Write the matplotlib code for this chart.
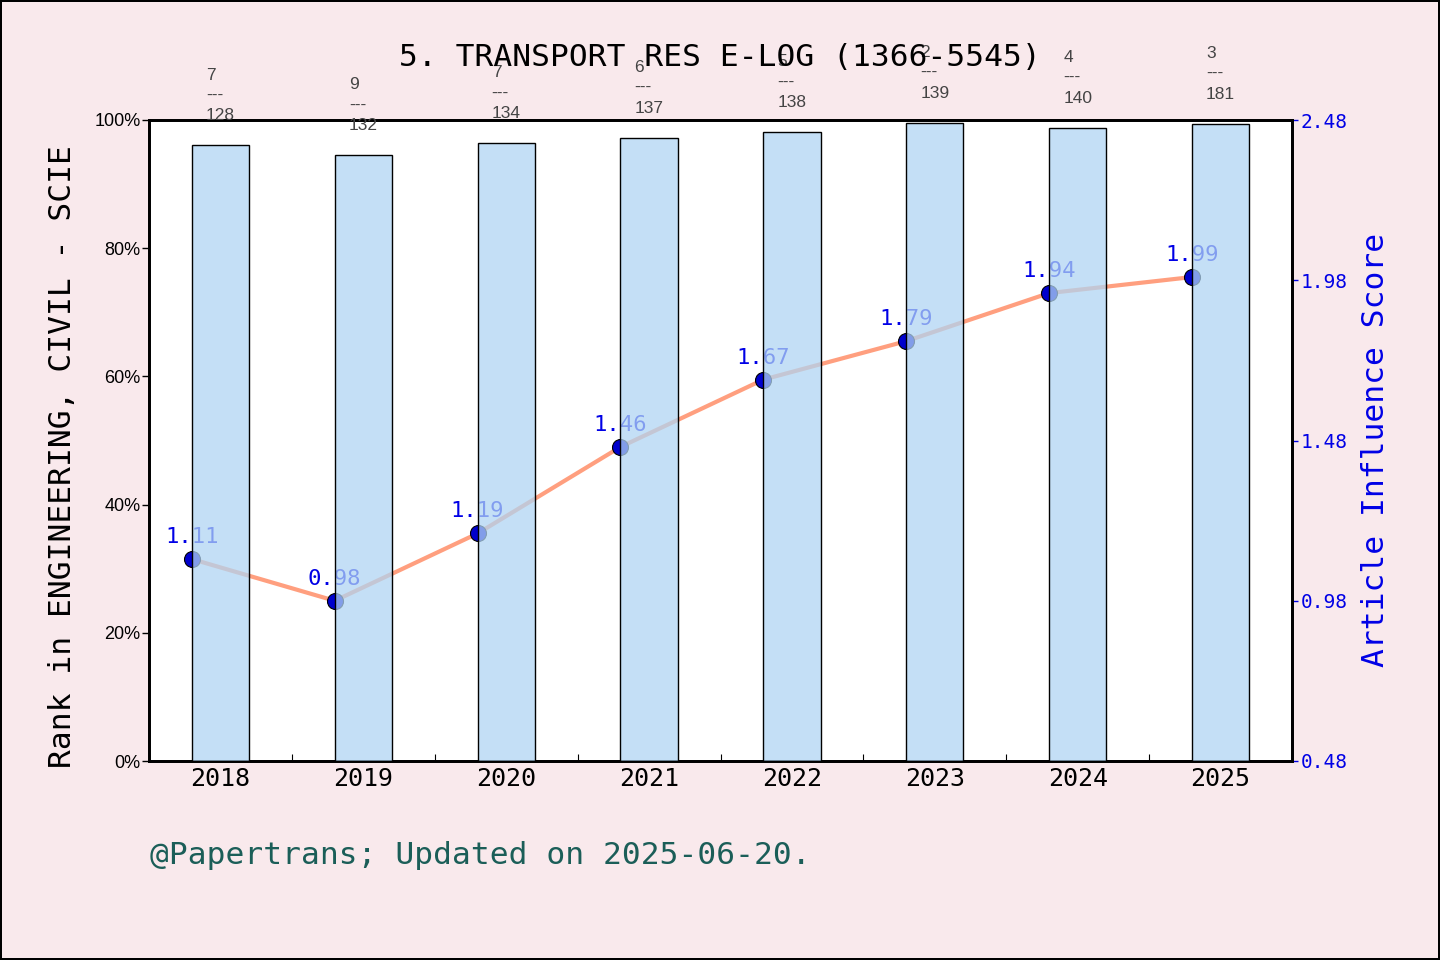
import matplotlib
matplotlib.use("Agg")
from matplotlib import pyplot as plt
from matplotlib.ticker import FixedLocator, FuncFormatter

# data
years = ["2018", "2019", "2020", "2021", "2022", "2023", "2024", "2025"]
rank_pct = [96.05, 94.5, 96.4, 97.25, 98.1, 99.6, 98.8, 99.45]
ranks = [7, 9, 7, 6, 5, 2, 4, 3]
totals = [128, 132, 134, 137, 138, 139, 140, 181]
ais = [1.11, 0.98, 1.19, 1.46, 1.67, 1.79, 1.94, 1.99]
ais_ticks = [0.48, 0.98, 1.48, 1.98, 2.48]

title = "5. TRANSPORT RES E-LOG (1366-5545)"
footer = "@Papertrans; Updated on 2025-06-20."

MONO = "DejaVu Sans Mono"
SANS = "Liberation Sans"
BG = "#f9e9ec"
BLUE = "#0000e6"

fig = plt.figure(figsize=(14.4, 9.6), dpi=100)
fig.patch.set_facecolor(BG)
fig.patch.set_edgecolor("black")
fig.patch.set_linewidth(1.5)

ax = fig.add_axes([149 / 1440, 1 - 761 / 960, (1292 - 149) / 1440, (761 - 120) / 960])
ax2 = ax.twinx()
# bars (left axis) sit over the score line (right axis)
ax.set_zorder(ax2.get_zorder() + 1)
ax.patch.set_visible(False)
ax2.patch.set_visible(True)
ax2.patch.set_facecolor("white")

x = list(range(len(years)))
bar_w = 0.4

# score line, anchored at the left edge of each bar
xs = [i - bar_w / 2 for i in x]
ax2.plot(xs, ais, color="#ff9f7f", lw=3, zorder=2, solid_capstyle="round")
ax2.plot(xs, ais, ls="none", marker="o", ms=11.5, mfc="#0000cd", mec="black",
         mew=0.8, zorder=3)
for xi, v in zip(xs, ais):
    ax2.annotate(f"{v:.2f}", (xi, v), xytext=(0, 12), textcoords="offset pixels",
                 ha="center", va="bottom", color=BLUE, fontsize=16, family=MONO,
                 zorder=4)

ax2.set_ylim(0.48, 2.48)
ax2.yaxis.set_major_locator(FixedLocator(ais_ticks))
ax2.yaxis.set_major_formatter(FuncFormatter(lambda v, p: f"{v:.2f}"))
ax2.tick_params(axis="y", colors=BLUE, labelsize=14, length=4, width=1, pad=2)
for lab in ax2.get_yticklabels():
    lab.set_family(MONO)

# rank bars
ax.bar(x, rank_pct, width=bar_w, facecolor=(0.69, 0.835, 0.953, 0.74),
       edgecolor=(0, 0, 0, 1), linewidth=1, zorder=3)
for xi, h, r, n in zip(x, rank_pct, ranks, totals):
    ax.annotate(f"{r}\n---\n{n}", (xi, h), xytext=(0, 22), textcoords="offset pixels",
                ha="center", va="bottom", multialignment="left", color="#444444",
                fontsize=12.5, family=SANS, linespacing=1.45, annotation_clip=False)

ax.set_xlim(-0.5, len(years) - 0.5)
ax.set_ylim(0, 100)
ax.set_xticks(x)
ax.set_xticklabels(years, family=MONO, fontsize=18)
ax.set_xticks([i + 0.5 for i in x[:-1]], minor=True)
ax.tick_params(axis="x", which="major", length=0, pad=4)
ax.tick_params(axis="x", which="minor", direction="in", length=5, width=0.8)
ax.set_yticks(range(0, 101, 20))
ax.yaxis.set_major_formatter(FuncFormatter(lambda v, p: f"{v:.0f}%"))
ax.tick_params(axis="y", labelsize=13, length=5, width=1, pad=1)
for lab in ax.get_yticklabels():
    lab.set_family(SANS)

for a in (ax, ax2):
    for s in a.spines.values():
        s.set_linewidth(2)
        s.set_color("black")

fig.text(720 / 1440, 1 - 57 / 960, title, ha="center", va="center",
         family=MONO, fontsize=22.5, color="black")
fig.text(63 / 1440, 1 - 457 / 960, "Rank in ENGINEERING, CIVIL - SCIE",
         rotation=90, ha="center", va="center", family=MONO, fontsize=22.5)
fig.text(1375 / 1440, 1 - 450 / 960, "Article Influence Score", rotation=90,
         ha="center", va="center", family=MONO, fontsize=22.5, color=BLUE)
fig.text(150 / 1440, 1 - 855 / 960, footer, ha="left", va="center",
         family=MONO, fontsize=22.5, color="#1b5e58")

fig.savefig("out.png", dpi=100, facecolor=fig.get_facecolor(),
            edgecolor=fig.get_edgecolor())
